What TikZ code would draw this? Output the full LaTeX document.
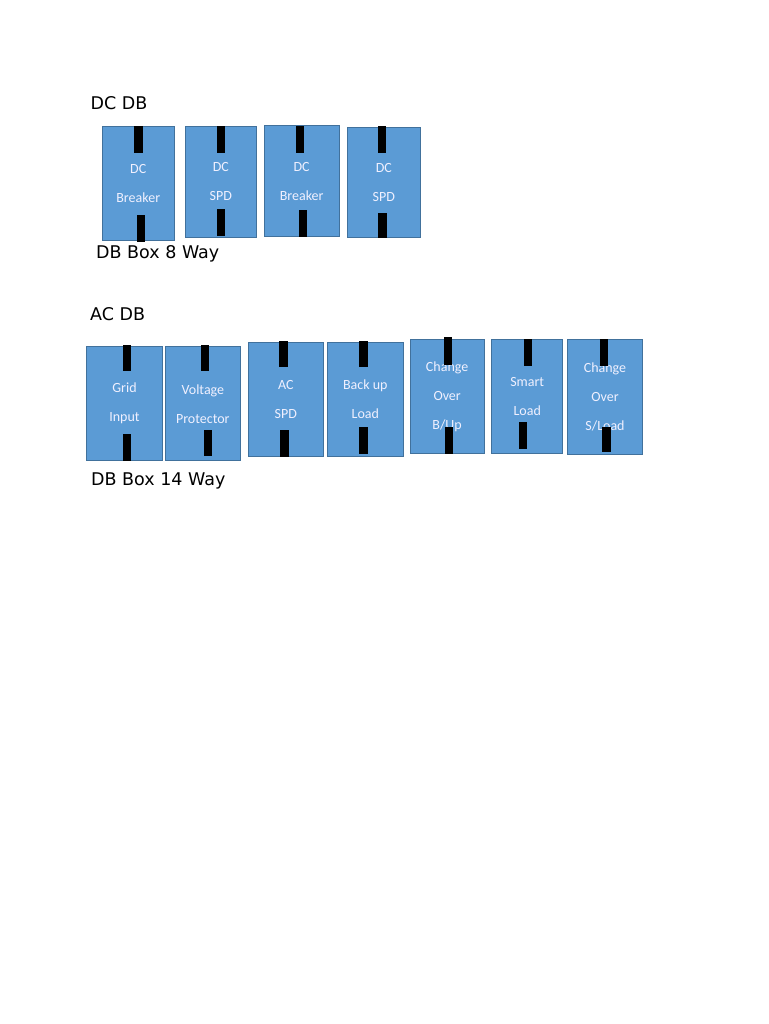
\documentclass[tikz,border=0pt]{standalone}
\usepackage{fontspec}
\setmainfont{DejaVu Sans}
\newfontfamily\calib{Carlito}
\definecolor{boxblue}{HTML}{5B9BD5}
\definecolor{boxedge}{HTML}{41719C}
\tikzset{
  module/.style={draw=boxedge, line width=1pt, fill=boxblue, rectangle, inner sep=0pt,
    text=white!94!blue, align=center, font=\calib\fontsize{14}{29}\selectfont},
  heading/.style={anchor=base west, inner sep=0pt, font=\fontsize{17.5}{20}\selectfont, text=black}
}
\newcommand{\dbmod}[6]{\node[module, minimum width=#4pt, minimum height=#5pt] (#1) at (#2,#3) {#6};}
\newcommand{\dbbar}[4]{\fill[black] (#1,#2) rectangle (#3,#4);}
\begin{document}
\begin{tikzpicture}[x=1pt,y=-1pt]
\useasboundingbox (0,0) rectangle (768,1024);
\fill[white] (0,0) rectangle (768,1024);
% headings
\node[heading] (dcdb) at (90.5,109.5) {DC DB};
\node[heading] (dc8) at (96,258.5) {DB Box 8 Way};
\node[heading] (acdb) at (90,320.5) {AC DB};
\node[heading] (ac14) at (91,485.5) {DB Box 14 Way};
% DC modules
\dbmod{d1}{138.25}{183.5}{71.5}{114}{DC\\Breaker}
\dbmod{d2}{220.85}{182}{71.7}{110.6}{DC\\SPD}
\dbmod{d3}{301.65}{181.35}{74.7}{110.7}{DC\\Breaker}
\dbmod{d4}{383.85}{182.3}{72.3}{110}{DC\\SPD}
% AC modules
\dbmod{a1}{124.5}{403.7}{75.6}{114}{Grid\\Input}
\dbmod{a2}{202.85}{403.7}{75.7}{114}{Voltage\\Protector}
\dbmod{a3}{285.8}{399.5}{75}{114.4}{AC\\SPD}
\dbmod{a4}{365.3}{399.15}{76}{113.7}{Back up\\Load}
\dbmod{a5}{447.15}{396.3}{74.3}{114}{Change\\Over\\B/Up}
\dbmod{a6}{527.2}{396.3}{71}{114}{Smart\\Load}
\dbmod{a7}{605}{396.8}{75.4}{115}{Change\\Over\\S/Load}
% terminal bars DC
\dbbar{133.5}{126}{142.5}{153}\dbbar{136.7}{215}{145}{241.7}
\dbbar{216.7}{126}{225}{153}\dbbar{216.7}{209}{225}{235.7}
\dbbar{296}{126}{304}{153}\dbbar{299}{210}{307.3}{236.7}
\dbbar{377.7}{126}{386}{153}\dbbar{378.3}{212.7}{386.7}{238.3}
% terminal bars AC
\dbbar{122.7}{345}{130.7}{371}\dbbar{122.7}{434}{130.7}{460.7}
\dbbar{200.7}{345}{209}{371}\dbbar{204}{430}{212.3}{456}
\dbbar{279.3}{341}{288}{366.7}\dbbar{280}{430}{289}{456.7}
\dbbar{359.3}{341}{368.3}{367}\dbbar{359.3}{426.7}{368.3}{454}
\dbbar{444}{337.3}{451.7}{365}\dbbar{445}{427.3}{453.3}{454}
\dbbar{524.3}{339}{532}{366}\dbbar{519}{421.7}{527}{449}
\dbbar{600}{339}{608.3}{366}\dbbar{602.3}{426.7}{610.7}{451.7}
\end{tikzpicture}
\end{document}
